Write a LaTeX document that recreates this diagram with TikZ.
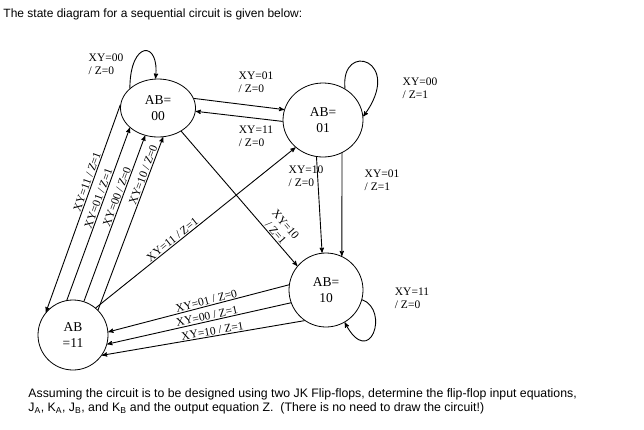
\documentclass[tikz,border=0pt]{standalone}
\usepackage{fontspec}
\setmainfont{Liberation Serif}
\newfontfamily\capfont{Liberation Sans}
\usetikzlibrary{arrows,shapes.geometric}
\begin{document}
\begin{tikzpicture}[x=1pt,y=-1pt,->,>=stealth',line width=0.9pt,
		state/.style={ellipse,draw,line width=0.8pt,align=center,font=\fontsize{13.5}{16}\selectfont},
		lbl/.style={font=\fontsize{11.5}{13}\selectfont,align=left,inner sep=1pt},
		slbl/.style={lbl,sloped,above}]
	\useasboundingbox (0,0) rectangle (644,429);
	\node[anchor=north west,inner sep=0,font=\capfont\fontsize{12}{13}\selectfont] (title) at (3,8) {The state diagram for a sequential circuit is given below:};
	\node[anchor=north west,align=left,inner sep=0,font=\capfont\fontsize{12.3}{14.5}\selectfont] (task) at (28,388)
		{Assuming the circuit is to be designed using two JK Flip-flops, determine the flip-flop input equations,\\
		J\textsubscript{A}, K\textsubscript{A}, J\textsubscript{B}, and K\textsubscript{B} and the output equation Z.\ \ (There is no need to draw the circuit!)};
	
	\node[state,minimum width=75,minimum height=58] (s00) at (158,108) {AB=\\00};
	\node[state,minimum width=80,minimum height=74] (s01) at (323,120) {AB=\\01};
	\node[state,minimum width=74,minimum height=74] (s10) at (326,290) {AB=\\10};
	\node[state,minimum width=70,minimum height=70] (s11) at (73,335) {AB\\=11};
	
	% self loops
	\draw (s00.145) .. controls (130,40) and (160,40) .. (s00.95);
	\node[lbl] (l00) at (106,64) {XY=00\\/ Z=0};
	\draw (s01.55) .. controls (340,40) and (405,60) .. (s01.5);
	\node[lbl] (l01) at (420,88) {XY=00\\/ Z=1};
	\draw (s10.-15) .. controls (390,310) and (370,370) .. (s10.-60);
	\node[lbl] (l10) at (412,298) {XY=11\\/ Z=0};
	
	% between states
	\draw (s00.15) -- (s01.165);
	\node[lbl] (a) at (256,82) {XY=01\\/ Z=0};
	\draw (s01.182) -- (s00.-5);
	\node[lbl] (b) at (256,136) {XY=11\\/ Z=0};
	\draw (s01.-100) -- (s10.96);
	\node[lbl] (c) at (306,176) {XY=10\\/ Z=0};
	\draw (s01.-60) -- (s10.65);
	\node[lbl] (d) at (382,180) {XY=01\\/ Z=1};
	\draw (s00.-45) -- node[lbl,sloped,above,pos=0.78,align=center] {XY=10\\/ Z=1} (s10.140);
	\draw (s11.50) -- node[slbl,pos=0.4] {XY=11 / Z=1} (s01.-135);
	\draw (s10.172) -- node[slbl,pos=0.45] {XY=01 / Z=0} (s11.5);
	\draw (s10.200) -- node[slbl,pos=0.45] {XY=00 / Z=1} (s11.-15);
	\draw (s10.235) -- node[slbl,pos=0.45] {XY=10 / Z=1} (s11.-35);
	\draw (s00.175) -- node[slbl,pos=0.38] {XY=11 / Z=1} (s11.140);
	\draw (s11.100) -- node[slbl,pos=0.58] {XY=01 / Z=1} (s00.-145);
	\draw (s11.72) -- node[slbl,pos=0.62] {XY=00 / Z=0} (s00.-115);
	\draw (s11.45) -- node[slbl,pos=0.77] {XY=10 / Z=0} (s00.-80);
\end{tikzpicture}
\end{document}
